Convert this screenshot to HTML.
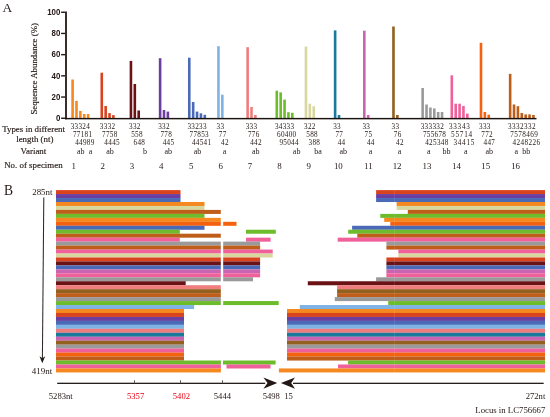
<!DOCTYPE html>
<html><head><meta charset="utf-8"><title>Figure</title>
<style>
html,body{margin:0;padding:0;background:#fff;}
svg{display:block;}
text{font-family:"Liberation Serif",serif;fill:#231815;}
.ax{font-family:"Liberation Sans",sans-serif;font-weight:bold;font-size:8.4px;}
.d{font-size:7.2px;}
.v{font-size:8px;}
.l{font-size:8.9px;stroke:#231815;stroke-width:0.15px;}
.n{font-size:8.6px;}
</style></head><body>
<svg width="550" height="417" viewBox="0 0 550 417">
<rect width="550" height="417" fill="#fff"/>
<text x="2.6" y="12.3" font-size="13.4px">A</text>
<text class="l" transform="translate(37.3,114.6) rotate(-90)" style="font-size:8.9px">Sequence Abundance (%)</text>
<rect x="61.1" y="11.55" width="4" height="1.4" fill="#231815"/>
<text class="ax" transform="translate(60.4,15.05) scale(0.94,1)" text-anchor="end">100</text>
<rect x="61.1" y="32.75" width="4" height="1.4" fill="#231815"/>
<text class="ax" transform="translate(60.4,36.25) scale(0.94,1)" text-anchor="end">80</text>
<rect x="61.1" y="53.95" width="4" height="1.4" fill="#231815"/>
<text class="ax" transform="translate(60.4,57.45) scale(0.94,1)" text-anchor="end">60</text>
<rect x="61.1" y="75.15" width="4" height="1.4" fill="#231815"/>
<text class="ax" transform="translate(60.4,78.65) scale(0.94,1)" text-anchor="end">40</text>
<rect x="61.1" y="96.35" width="4" height="1.4" fill="#231815"/>
<text class="ax" transform="translate(60.4,99.85) scale(0.94,1)" text-anchor="end">20</text>
<rect x="61.1" y="117.55" width="4" height="1.4" fill="#231815"/>
<text class="ax" transform="translate(60.4,121.05) scale(0.94,1)" text-anchor="end">0</text>
<rect x="71.30" y="79.50" width="2.60" height="38.70" fill="#f5891f"/>
<rect x="75.18" y="100.90" width="2.60" height="17.30" fill="#f5891f"/>
<rect x="79.06" y="110.90" width="2.60" height="7.30" fill="#f5891f"/>
<rect x="82.94" y="114.00" width="2.60" height="4.20" fill="#f5891f"/>
<rect x="86.82" y="114.00" width="2.60" height="4.20" fill="#f5891f"/>
<text class="d" x="70.70" y="128.80">3</text>
<text class="d" x="74.58" y="128.80">3</text>
<text class="d" x="78.46" y="128.80">3</text>
<text class="d" x="82.34" y="128.80">2</text>
<text class="d" x="86.22" y="128.80">4</text>
<text class="d" x="72.90" y="136.60">7</text>
<text class="d" x="76.78" y="136.60">7</text>
<text class="d" x="80.66" y="136.60">1</text>
<text class="d" x="84.54" y="136.60">8</text>
<text class="d" x="88.42" y="136.60">1</text>
<text class="d" x="75.20" y="145.20">4</text>
<text class="d" x="79.08" y="145.20">4</text>
<text class="d" x="82.96" y="145.20">9</text>
<text class="d" x="86.84" y="145.20">8</text>
<text class="d" x="90.72" y="145.20">9</text>
<text class="v" x="77.00" y="153.6">ab</text>
<text class="v" x="88.64" y="153.6">a</text>
<text class="n" x="71.40" y="168.5" style="font-size:8.9px">1</text>
<rect x="100.47" y="72.70" width="2.60" height="45.50" fill="#d9441f"/>
<rect x="104.35" y="106.00" width="2.60" height="12.20" fill="#d9441f"/>
<rect x="108.23" y="113.10" width="2.60" height="5.10" fill="#d9441f"/>
<rect x="112.11" y="115.10" width="2.60" height="3.10" fill="#d9441f"/>
<text class="d" x="99.87" y="128.80">3</text>
<text class="d" x="103.75" y="128.80">3</text>
<text class="d" x="107.63" y="128.80">3</text>
<text class="d" x="111.51" y="128.80">2</text>
<text class="d" x="102.07" y="136.60">7</text>
<text class="d" x="105.95" y="136.60">7</text>
<text class="d" x="109.83" y="136.60">5</text>
<text class="d" x="113.71" y="136.60">8</text>
<text class="d" x="104.37" y="145.20">4</text>
<text class="d" x="108.25" y="145.20">4</text>
<text class="d" x="112.13" y="145.20">4</text>
<text class="d" x="116.01" y="145.20">5</text>
<text class="v" x="106.17" y="153.6">ab</text>
<text class="n" x="100.57" y="168.5" style="font-size:8.9px">2</text>
<rect x="129.64" y="60.90" width="2.60" height="57.30" fill="#6b1216"/>
<rect x="133.52" y="84.00" width="2.60" height="34.20" fill="#6b1216"/>
<rect x="137.40" y="110.50" width="2.60" height="7.70" fill="#6b1216"/>
<text class="d" x="129.04" y="128.80">3</text>
<text class="d" x="132.92" y="128.80">3</text>
<text class="d" x="136.80" y="128.80">2</text>
<text class="d" x="131.24" y="136.60">5</text>
<text class="d" x="135.12" y="136.60">5</text>
<text class="d" x="139.00" y="136.60">8</text>
<text class="d" x="133.54" y="145.20">6</text>
<text class="d" x="137.42" y="145.20">4</text>
<text class="d" x="141.30" y="145.20">8</text>
<text class="v" x="143.10" y="153.6">b</text>
<text class="n" x="129.74" y="168.5" style="font-size:8.9px">3</text>
<rect x="158.81" y="58.20" width="2.60" height="60.00" fill="#6c3ea0"/>
<rect x="162.69" y="110.00" width="2.60" height="8.20" fill="#6c3ea0"/>
<rect x="166.57" y="111.60" width="2.60" height="6.60" fill="#6c3ea0"/>
<text class="d" x="158.21" y="128.80">3</text>
<text class="d" x="162.09" y="128.80">3</text>
<text class="d" x="165.97" y="128.80">2</text>
<text class="d" x="160.41" y="136.60">7</text>
<text class="d" x="164.29" y="136.60">7</text>
<text class="d" x="168.17" y="136.60">8</text>
<text class="d" x="162.71" y="145.20">4</text>
<text class="d" x="166.59" y="145.20">4</text>
<text class="d" x="170.47" y="145.20">5</text>
<text class="v" x="164.51" y="153.6">ab</text>
<text class="n" x="158.91" y="168.5" style="font-size:8.9px">4</text>
<rect x="187.98" y="57.70" width="2.60" height="60.50" fill="#4a6ab8"/>
<rect x="191.86" y="102.00" width="2.60" height="16.20" fill="#4a6ab8"/>
<rect x="195.74" y="111.60" width="2.60" height="6.60" fill="#4a6ab8"/>
<rect x="199.62" y="113.30" width="2.60" height="4.90" fill="#4a6ab8"/>
<rect x="203.50" y="114.80" width="2.60" height="3.40" fill="#4a6ab8"/>
<text class="d" x="187.38" y="128.80">3</text>
<text class="d" x="191.26" y="128.80">3</text>
<text class="d" x="195.14" y="128.80">2</text>
<text class="d" x="199.02" y="128.80">3</text>
<text class="d" x="202.90" y="128.80">3</text>
<text class="d" x="189.58" y="136.60">7</text>
<text class="d" x="193.46" y="136.60">7</text>
<text class="d" x="197.34" y="136.60">8</text>
<text class="d" x="201.22" y="136.60">5</text>
<text class="d" x="205.10" y="136.60">3</text>
<text class="d" x="191.88" y="145.20">4</text>
<text class="d" x="195.76" y="145.20">4</text>
<text class="d" x="199.64" y="145.20">5</text>
<text class="d" x="203.52" y="145.20">4</text>
<text class="d" x="207.40" y="145.20">1</text>
<text class="v" x="193.68" y="153.6">ab</text>
<text class="n" x="189.08" y="168.5" style="font-size:8.9px">5</text>
<rect x="217.15" y="46.20" width="2.60" height="72.00" fill="#7fb2e5"/>
<rect x="221.03" y="94.70" width="2.60" height="23.50" fill="#7fb2e5"/>
<text class="d" x="216.55" y="128.80">3</text>
<text class="d" x="220.43" y="128.80">3</text>
<text class="d" x="218.75" y="136.60">7</text>
<text class="d" x="222.63" y="136.60">7</text>
<text class="d" x="221.05" y="145.20">4</text>
<text class="d" x="224.93" y="145.20">2</text>
<text class="v" x="222.85" y="153.6">a</text>
<text class="n" x="218.45" y="168.5" style="font-size:8.9px">6</text>
<rect x="246.32" y="47.20" width="2.60" height="71.00" fill="#ef7d7d"/>
<rect x="250.20" y="107.00" width="2.60" height="11.20" fill="#ef7d7d"/>
<rect x="254.08" y="115.00" width="2.60" height="3.20" fill="#ef7d7d"/>
<text class="d" x="245.72" y="128.80">3</text>
<text class="d" x="249.60" y="128.80">3</text>
<text class="d" x="253.48" y="128.80">3</text>
<text class="d" x="247.92" y="136.60">7</text>
<text class="d" x="251.80" y="136.60">7</text>
<text class="d" x="255.68" y="136.60">6</text>
<text class="d" x="250.22" y="145.20">4</text>
<text class="d" x="254.10" y="145.20">4</text>
<text class="d" x="257.98" y="145.20">2</text>
<text class="v" x="252.02" y="153.6">ab</text>
<text class="n" x="247.82" y="168.5" style="font-size:8.9px">7</text>
<rect x="275.49" y="90.70" width="2.60" height="27.50" fill="#6cbc2c"/>
<rect x="279.37" y="92.40" width="2.60" height="25.80" fill="#6cbc2c"/>
<rect x="283.25" y="99.60" width="2.60" height="18.60" fill="#6cbc2c"/>
<rect x="287.13" y="112.20" width="2.60" height="6.00" fill="#6cbc2c"/>
<rect x="291.01" y="112.80" width="2.60" height="5.40" fill="#6cbc2c"/>
<text class="d" x="274.89" y="128.80">3</text>
<text class="d" x="278.77" y="128.80">4</text>
<text class="d" x="282.65" y="128.80">3</text>
<text class="d" x="286.53" y="128.80">3</text>
<text class="d" x="290.41" y="128.80">3</text>
<text class="d" x="277.09" y="136.60">6</text>
<text class="d" x="280.97" y="136.60">0</text>
<text class="d" x="284.85" y="136.60">4</text>
<text class="d" x="288.73" y="136.60">0</text>
<text class="d" x="292.61" y="136.60">0</text>
<text class="d" x="279.39" y="145.20">9</text>
<text class="d" x="283.27" y="145.20">5</text>
<text class="d" x="287.15" y="145.20">0</text>
<text class="d" x="291.03" y="145.20">4</text>
<text class="d" x="294.91" y="145.20">4</text>
<text class="v" x="292.83" y="153.6">ab</text>
<text class="n" x="277.29" y="168.5" style="font-size:8.9px">8</text>
<rect x="304.66" y="46.60" width="2.60" height="71.60" fill="#d9d7a0"/>
<rect x="308.54" y="103.70" width="2.60" height="14.50" fill="#d9d7a0"/>
<rect x="312.42" y="106.20" width="2.60" height="12.00" fill="#d9d7a0"/>
<text class="d" x="304.06" y="128.80">3</text>
<text class="d" x="307.94" y="128.80">2</text>
<text class="d" x="311.82" y="128.80">2</text>
<text class="d" x="306.26" y="136.60">5</text>
<text class="d" x="310.14" y="136.60">8</text>
<text class="d" x="314.02" y="136.60">8</text>
<text class="d" x="308.56" y="145.20">3</text>
<text class="d" x="312.44" y="145.20">8</text>
<text class="d" x="316.32" y="145.20">8</text>
<text class="v" x="314.24" y="153.6">ba</text>
<text class="n" x="306.46" y="168.5" style="font-size:8.9px">9</text>
<rect x="333.83" y="30.40" width="2.60" height="87.80" fill="#1a7a9c"/>
<rect x="337.71" y="115.00" width="2.60" height="3.20" fill="#1a7a9c"/>
<text class="d" x="333.23" y="128.80">3</text>
<text class="d" x="337.11" y="128.80">3</text>
<text class="d" x="335.43" y="136.60">7</text>
<text class="d" x="339.31" y="136.60">7</text>
<text class="d" x="337.73" y="145.20">4</text>
<text class="d" x="341.61" y="145.20">4</text>
<text class="v" x="339.53" y="153.6">ab</text>
<text class="n" x="333.93" y="168.5" style="font-size:8.9px">10</text>
<rect x="363.00" y="30.70" width="2.60" height="87.50" fill="#c864b0"/>
<rect x="366.88" y="115.00" width="2.60" height="3.20" fill="#c864b0"/>
<text class="d" x="362.40" y="128.80">3</text>
<text class="d" x="366.28" y="128.80">3</text>
<text class="d" x="364.60" y="136.60">7</text>
<text class="d" x="368.48" y="136.60">5</text>
<text class="d" x="366.90" y="145.20">4</text>
<text class="d" x="370.78" y="145.20">4</text>
<text class="v" x="368.70" y="153.6">a</text>
<text class="n" x="364.10" y="168.5" style="font-size:8.9px">11</text>
<rect x="392.17" y="26.50" width="2.60" height="91.70" fill="#92601f"/>
<rect x="396.05" y="115.00" width="2.60" height="3.20" fill="#92601f"/>
<text class="d" x="391.57" y="128.80">3</text>
<text class="d" x="395.45" y="128.80">3</text>
<text class="d" x="393.77" y="136.60">7</text>
<text class="d" x="397.65" y="136.60">6</text>
<text class="d" x="396.07" y="145.20">4</text>
<text class="d" x="399.95" y="145.20">2</text>
<text class="v" x="397.87" y="153.6">a</text>
<text class="n" x="392.67" y="168.5" style="font-size:8.9px">12</text>
<rect x="421.34" y="88.00" width="2.60" height="30.20" fill="#9a9a9a"/>
<rect x="425.22" y="104.50" width="2.60" height="13.70" fill="#9a9a9a"/>
<rect x="429.10" y="107.50" width="2.60" height="10.70" fill="#9a9a9a"/>
<rect x="432.98" y="108.40" width="2.60" height="9.80" fill="#9a9a9a"/>
<rect x="436.86" y="112.00" width="2.60" height="6.20" fill="#9a9a9a"/>
<rect x="440.74" y="112.00" width="2.60" height="6.20" fill="#9a9a9a"/>
<text class="d" x="420.74" y="128.80">3</text>
<text class="d" x="424.62" y="128.80">3</text>
<text class="d" x="428.50" y="128.80">3</text>
<text class="d" x="432.38" y="128.80">3</text>
<text class="d" x="436.26" y="128.80">3</text>
<text class="d" x="440.14" y="128.80">2</text>
<text class="d" x="422.94" y="136.60">7</text>
<text class="d" x="426.82" y="136.60">5</text>
<text class="d" x="430.70" y="136.60">5</text>
<text class="d" x="434.58" y="136.60">6</text>
<text class="d" x="438.46" y="136.60">7</text>
<text class="d" x="442.34" y="136.60">8</text>
<text class="d" x="425.24" y="145.20">4</text>
<text class="d" x="429.12" y="145.20">2</text>
<text class="d" x="433.00" y="145.20">5</text>
<text class="d" x="436.88" y="145.20">3</text>
<text class="d" x="440.76" y="145.20">4</text>
<text class="d" x="444.64" y="145.20">8</text>
<text class="v" x="427.04" y="153.6">a</text>
<text class="v" x="442.56" y="153.6">bb</text>
<text class="n" x="422.54" y="168.5" style="font-size:8.9px">13</text>
<rect x="450.51" y="75.30" width="2.60" height="42.90" fill="#f0609a"/>
<rect x="454.39" y="103.70" width="2.60" height="14.50" fill="#f0609a"/>
<rect x="458.27" y="103.70" width="2.60" height="14.50" fill="#f0609a"/>
<rect x="462.15" y="105.90" width="2.60" height="12.30" fill="#f0609a"/>
<rect x="466.03" y="113.60" width="2.60" height="4.60" fill="#f0609a"/>
<text class="d" x="448.91" y="128.80">3</text>
<text class="d" x="453.26" y="128.80">3</text>
<text class="d" x="457.61" y="128.80">3</text>
<text class="d" x="461.96" y="128.80">4</text>
<text class="d" x="466.31" y="128.80">3</text>
<text class="d" x="451.11" y="136.60">5</text>
<text class="d" x="455.46" y="136.60">5</text>
<text class="d" x="459.81" y="136.60">7</text>
<text class="d" x="464.16" y="136.60">1</text>
<text class="d" x="468.51" y="136.60">4</text>
<text class="d" x="453.41" y="145.20">3</text>
<text class="d" x="457.76" y="145.20">4</text>
<text class="d" x="462.11" y="145.20">4</text>
<text class="d" x="466.46" y="145.20">1</text>
<text class="d" x="470.81" y="145.20">5</text>
<text class="v" x="463.97" y="153.6">a</text>
<text class="n" x="452.11" y="168.5" style="font-size:8.9px">14</text>
<rect x="479.68" y="42.80" width="2.60" height="75.40" fill="#f4620f"/>
<rect x="483.56" y="112.00" width="2.60" height="6.20" fill="#f4620f"/>
<rect x="487.44" y="114.70" width="2.60" height="3.50" fill="#f4620f"/>
<text class="d" x="479.08" y="128.80">3</text>
<text class="d" x="482.96" y="128.80">3</text>
<text class="d" x="486.84" y="128.80">3</text>
<text class="d" x="481.28" y="136.60">7</text>
<text class="d" x="485.16" y="136.60">7</text>
<text class="d" x="489.04" y="136.60">2</text>
<text class="d" x="483.58" y="145.20">4</text>
<text class="d" x="487.46" y="145.20">4</text>
<text class="d" x="491.34" y="145.20">7</text>
<text class="v" x="485.38" y="153.6">ab</text>
<text class="n" x="481.28" y="168.5" style="font-size:8.9px">15</text>
<rect x="508.85" y="73.90" width="2.60" height="44.30" fill="#be5e1a"/>
<rect x="512.73" y="104.50" width="2.60" height="13.70" fill="#be5e1a"/>
<rect x="516.61" y="106.20" width="2.60" height="12.00" fill="#be5e1a"/>
<rect x="520.49" y="113.00" width="2.60" height="5.20" fill="#be5e1a"/>
<rect x="524.37" y="114.40" width="2.60" height="3.80" fill="#be5e1a"/>
<rect x="528.25" y="114.40" width="2.60" height="3.80" fill="#be5e1a"/>
<rect x="532.13" y="115.00" width="2.60" height="3.20" fill="#be5e1a"/>
<text class="d" x="507.95" y="128.80">3</text>
<text class="d" x="511.95" y="128.80">3</text>
<text class="d" x="515.95" y="128.80">3</text>
<text class="d" x="519.95" y="128.80">2</text>
<text class="d" x="523.95" y="128.80">3</text>
<text class="d" x="527.95" y="128.80">3</text>
<text class="d" x="531.95" y="128.80">2</text>
<text class="d" x="510.15" y="136.60">7</text>
<text class="d" x="514.15" y="136.60">5</text>
<text class="d" x="518.15" y="136.60">7</text>
<text class="d" x="522.15" y="136.60">8</text>
<text class="d" x="526.15" y="136.60">4</text>
<text class="d" x="530.15" y="136.60">6</text>
<text class="d" x="534.15" y="136.60">9</text>
<text class="d" x="512.45" y="145.20">4</text>
<text class="d" x="516.45" y="145.20">2</text>
<text class="d" x="520.45" y="145.20">4</text>
<text class="d" x="524.45" y="145.20">8</text>
<text class="d" x="528.45" y="145.20">2</text>
<text class="d" x="532.45" y="145.20">2</text>
<text class="d" x="536.45" y="145.20">6</text>
<text class="v" x="514.55" y="153.6">a</text>
<text class="v" x="522.31" y="153.6">bb</text>
<text class="n" x="511.15" y="168.5" style="font-size:8.9px">16</text>
<rect x="65.1" y="11.5" width="1.8" height="107.8" fill="#231815"/>
<rect x="65.1" y="117.9" width="471.4" height="1.45" fill="#1c1311"/>
<text class="l" x="2.2" y="132">Types in different</text>
<text class="l" x="16.2" y="142">length (nt)</text>
<text class="l" x="20.6" y="154.4">Variant</text>
<text class="l" x="4.2" y="168.4">No. of specimen</text>
<text x="4" y="194.5" font-size="13.6px">B</text>
<text class="n" x="32.2" y="194.8" style="font-size:8.9px">285nt</text>
<text class="n" x="31.8" y="374" style="font-size:9px">419nt</text>
<path d="M43.8 197.5 L42.4 358.5" stroke="#2e2826" stroke-width="1.05" fill="none"/>
<path d="M42.3 363.2 L39.5 356.3 L42.35 358.2 L45.2 356.3 Z" fill="#231815"/>
<rect x="56.00" y="190.10" width="124.50" height="4.01" fill="#d9441f"/>
<rect x="376.10" y="190.10" width="168.90" height="4.01" fill="#d9441f"/>
<rect x="56.00" y="194.06" width="124.50" height="4.01" fill="#6c3ea0"/>
<rect x="376.10" y="194.06" width="168.90" height="4.01" fill="#6c3ea0"/>
<rect x="56.00" y="198.03" width="124.50" height="4.01" fill="#4a6ab8"/>
<rect x="376.10" y="198.03" width="168.90" height="4.01" fill="#4a6ab8"/>
<rect x="56.00" y="201.99" width="148.50" height="4.01" fill="#f5891f"/>
<rect x="396.60" y="201.99" width="148.40" height="4.01" fill="#f5891f"/>
<rect x="56.00" y="205.95" width="148.50" height="4.01" fill="#d9d7a0"/>
<rect x="396.60" y="205.95" width="148.40" height="4.01" fill="#d9d7a0"/>
<rect x="56.00" y="209.91" width="164.80" height="4.01" fill="#be5e1a"/>
<rect x="407.80" y="209.91" width="137.20" height="4.01" fill="#be5e1a"/>
<rect x="56.00" y="213.88" width="148.50" height="4.01" fill="#6cbc2c"/>
<rect x="380.30" y="213.88" width="164.70" height="4.01" fill="#6cbc2c"/>
<rect x="56.00" y="217.84" width="164.80" height="4.01" fill="#f5891f"/>
<rect x="384.20" y="217.84" width="160.80" height="4.01" fill="#f5891f"/>
<rect x="56.00" y="221.80" width="164.80" height="4.01" fill="#f4620f"/>
<rect x="223.20" y="221.80" width="13.30" height="4.01" fill="#f4620f"/>
<rect x="390.30" y="221.80" width="154.70" height="4.01" fill="#f4620f"/>
<rect x="56.00" y="225.77" width="148.50" height="4.01" fill="#4a6ab8"/>
<rect x="352.10" y="225.77" width="192.90" height="4.01" fill="#4a6ab8"/>
<rect x="56.00" y="229.73" width="123.80" height="4.01" fill="#6cbc2c"/>
<rect x="246.00" y="229.73" width="29.80" height="4.01" fill="#6cbc2c"/>
<rect x="348.20" y="229.73" width="196.80" height="4.01" fill="#6cbc2c"/>
<rect x="56.00" y="233.69" width="164.80" height="4.01" fill="#be5e1a"/>
<rect x="357.30" y="233.69" width="187.70" height="4.01" fill="#be5e1a"/>
<rect x="56.00" y="237.66" width="123.80" height="4.01" fill="#f0609a"/>
<rect x="246.00" y="237.66" width="24.60" height="4.01" fill="#f0609a"/>
<rect x="337.70" y="237.66" width="207.30" height="4.01" fill="#f0609a"/>
<rect x="56.00" y="241.62" width="164.80" height="4.01" fill="#9a9a9a"/>
<rect x="223.20" y="241.62" width="36.90" height="4.01" fill="#9a9a9a"/>
<rect x="386.40" y="241.62" width="158.60" height="4.01" fill="#9a9a9a"/>
<rect x="56.00" y="245.58" width="164.80" height="4.01" fill="#be5e1a"/>
<rect x="223.20" y="245.58" width="36.90" height="4.01" fill="#be5e1a"/>
<rect x="386.40" y="245.58" width="158.60" height="4.01" fill="#be5e1a"/>
<rect x="56.00" y="249.54" width="164.80" height="4.01" fill="#f0609a"/>
<rect x="223.20" y="249.54" width="49.50" height="4.01" fill="#f0609a"/>
<rect x="398.40" y="249.54" width="146.60" height="4.01" fill="#f0609a"/>
<rect x="56.00" y="253.51" width="164.80" height="4.01" fill="#d9d7a0"/>
<rect x="223.20" y="253.51" width="49.50" height="4.01" fill="#d9d7a0"/>
<rect x="398.40" y="253.51" width="146.60" height="4.01" fill="#d9d7a0"/>
<rect x="56.00" y="257.47" width="164.80" height="4.01" fill="#d9441f"/>
<rect x="223.20" y="257.47" width="36.90" height="4.01" fill="#d9441f"/>
<rect x="386.40" y="257.47" width="158.60" height="4.01" fill="#d9441f"/>
<rect x="56.00" y="261.43" width="164.80" height="4.01" fill="#6b1216"/>
<rect x="223.20" y="261.43" width="36.90" height="4.01" fill="#6b1216"/>
<rect x="386.40" y="261.43" width="158.60" height="4.01" fill="#6b1216"/>
<rect x="56.00" y="265.40" width="164.80" height="4.01" fill="#4a6ab8"/>
<rect x="223.20" y="265.40" width="36.90" height="4.01" fill="#4a6ab8"/>
<rect x="386.40" y="265.40" width="158.60" height="4.01" fill="#4a6ab8"/>
<rect x="56.00" y="269.36" width="164.80" height="4.01" fill="#c864b0"/>
<rect x="223.20" y="269.36" width="36.90" height="4.01" fill="#c864b0"/>
<rect x="386.40" y="269.36" width="158.60" height="4.01" fill="#c864b0"/>
<rect x="56.00" y="273.32" width="164.80" height="4.01" fill="#f0609a"/>
<rect x="223.20" y="273.32" width="36.90" height="4.01" fill="#f0609a"/>
<rect x="386.40" y="273.32" width="158.60" height="4.01" fill="#f0609a"/>
<rect x="56.00" y="277.29" width="164.80" height="4.01" fill="#9a9a9a"/>
<rect x="223.20" y="277.29" width="29.80" height="4.01" fill="#9a9a9a"/>
<rect x="376.10" y="277.29" width="168.90" height="4.01" fill="#9a9a9a"/>
<rect x="56.00" y="281.25" width="129.70" height="4.01" fill="#6b1216"/>
<rect x="307.80" y="281.25" width="237.20" height="4.01" fill="#6b1216"/>
<rect x="56.00" y="285.21" width="164.80" height="4.01" fill="#ef7d7d"/>
<rect x="337.10" y="285.21" width="207.90" height="4.01" fill="#ef7d7d"/>
<rect x="56.00" y="289.18" width="164.80" height="4.01" fill="#92601f"/>
<rect x="337.10" y="289.18" width="207.90" height="4.01" fill="#92601f"/>
<rect x="56.00" y="293.14" width="164.80" height="4.01" fill="#be5e1a"/>
<rect x="337.10" y="293.14" width="207.90" height="4.01" fill="#be5e1a"/>
<rect x="56.00" y="297.10" width="164.80" height="4.01" fill="#9a9a9a"/>
<rect x="334.80" y="297.10" width="210.20" height="4.01" fill="#9a9a9a"/>
<rect x="56.00" y="301.06" width="164.80" height="4.01" fill="#6cbc2c"/>
<rect x="223.20" y="301.06" width="55.50" height="4.01" fill="#6cbc2c"/>
<rect x="388.20" y="301.06" width="156.80" height="4.01" fill="#6cbc2c"/>
<rect x="56.00" y="305.03" width="138.10" height="4.01" fill="#7fb2e5"/>
<rect x="299.80" y="305.03" width="245.20" height="4.01" fill="#7fb2e5"/>
<rect x="56.00" y="308.99" width="128.00" height="4.01" fill="#f5891f"/>
<rect x="287.00" y="308.99" width="258.00" height="4.01" fill="#f5891f"/>
<rect x="56.00" y="312.95" width="128.00" height="4.01" fill="#d9441f"/>
<rect x="287.00" y="312.95" width="258.00" height="4.01" fill="#d9441f"/>
<rect x="56.00" y="316.92" width="128.00" height="4.01" fill="#6c3ea0"/>
<rect x="287.00" y="316.92" width="258.00" height="4.01" fill="#6c3ea0"/>
<rect x="56.00" y="320.88" width="128.00" height="4.01" fill="#4a6ab8"/>
<rect x="287.00" y="320.88" width="258.00" height="4.01" fill="#4a6ab8"/>
<rect x="56.00" y="324.84" width="128.00" height="4.01" fill="#7fb2e5"/>
<rect x="287.00" y="324.84" width="258.00" height="4.01" fill="#7fb2e5"/>
<rect x="56.00" y="328.81" width="128.00" height="4.01" fill="#ef7d7d"/>
<rect x="287.00" y="328.81" width="258.00" height="4.01" fill="#ef7d7d"/>
<rect x="56.00" y="332.77" width="128.00" height="4.01" fill="#1a7a9c"/>
<rect x="287.00" y="332.77" width="258.00" height="4.01" fill="#1a7a9c"/>
<rect x="56.00" y="336.73" width="128.00" height="4.01" fill="#c864b0"/>
<rect x="287.00" y="336.73" width="258.00" height="4.01" fill="#c864b0"/>
<rect x="56.00" y="340.69" width="128.00" height="4.01" fill="#92601f"/>
<rect x="287.00" y="340.69" width="258.00" height="4.01" fill="#92601f"/>
<rect x="56.00" y="344.66" width="128.00" height="4.01" fill="#9a9a9a"/>
<rect x="287.00" y="344.66" width="258.00" height="4.01" fill="#9a9a9a"/>
<rect x="56.00" y="348.62" width="128.00" height="4.01" fill="#f0609a"/>
<rect x="287.00" y="348.62" width="258.00" height="4.01" fill="#f0609a"/>
<rect x="56.00" y="352.58" width="128.00" height="4.01" fill="#f4620f"/>
<rect x="287.00" y="352.58" width="258.00" height="4.01" fill="#f4620f"/>
<rect x="56.00" y="356.55" width="128.00" height="4.01" fill="#be5e1a"/>
<rect x="287.00" y="356.55" width="258.00" height="4.01" fill="#be5e1a"/>
<rect x="56.00" y="360.51" width="164.90" height="4.01" fill="#6cbc2c"/>
<rect x="223.00" y="360.51" width="52.60" height="4.01" fill="#6cbc2c"/>
<rect x="348.10" y="360.51" width="196.90" height="4.01" fill="#6cbc2c"/>
<rect x="56.00" y="364.47" width="164.90" height="4.01" fill="#f0609a"/>
<rect x="226.50" y="364.47" width="44.00" height="4.01" fill="#f0609a"/>
<rect x="338.00" y="364.47" width="207.00" height="4.01" fill="#f0609a"/>
<rect x="56.00" y="368.44" width="164.90" height="4.01" fill="#f5891f"/>
<rect x="278.90" y="368.44" width="266.10" height="4.01" fill="#f5891f"/>
<rect x="394.4" y="190.1" width="0.5" height="182.3" fill="#fff" opacity="0.18"/>
<rect x="57.2" y="382.7" width="208" height="1.25" fill="#1c1311"/>
<rect x="293" y="382.7" width="250.7" height="1.25" fill="#1c1311"/>
<rect x="134.00" y="380.4" width="0.8" height="2.2" fill="#231815"/>
<rect x="180.20" y="380.4" width="0.8" height="2.2" fill="#231815"/>
<rect x="222.10" y="380.4" width="0.8" height="2.2" fill="#231815"/>
<path d="M277.3 383 L263.4 377.5 L267.5 383 L263.4 388.8 Z" fill="#231815"/>
<path d="M280.9 383 L295 377.5 L291.2 383 L295 388.8 Z" fill="#231815"/>
<text class="n" x="48.8" y="399">5283nt</text>
<text class="n" x="127" y="399" style="fill:#e60012">5357</text>
<text class="n" x="172.8" y="399" style="fill:#e60012">5402</text>
<text class="n" x="213.8" y="399">5444</text>
<text class="n" x="262.7" y="399">5498</text>
<text class="n" x="284.3" y="399">15</text>
<text class="n" x="545.3" y="398.8" text-anchor="end">272nt</text>
<text class="n" x="545.3" y="412.6" text-anchor="end" style="font-size:8.75px">Locus in LC756667</text>
</svg>
</body></html>
